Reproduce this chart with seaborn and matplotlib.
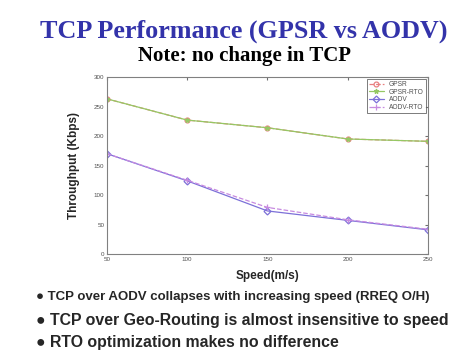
import numpy as np
import pandas as pd
import matplotlib
matplotlib.use("Agg")
import matplotlib.pyplot as plt
import seaborn as sns

# data
speeds = [50, 100, 150, 200, 250]
gpsr = [263, 227, 214, 195, 191]
gpsr_rto = [263, 227, 214, 195, 191]
aodv = [170, 124, 73, 57, 41]
aodv_rto = [170, 125, 79, 58, 42]
series_names = ["GPSR", "GPSR-RTO", "AODV", "AODV-RTO"]
y_ticks = [0, 50, 100, 150, 200, 250, 300]
bullets = [
    "\u25CF TCP over AODV collapses with increasing speed (RREQ O/H)",
    "\u25CF TCP over Geo-Routing is almost insensitive to speed",
    "\u25CF RTO optimization makes no difference",
]

df = pd.DataFrame({
    "speed": speeds * 4,
    "throughput": gpsr + gpsr_rto + aodv + aodv_rto,
    "series": np.repeat(series_names, len(speeds)),
})

sns.set_style("white")
plt.rcParams["font.family"] = ["Liberation Sans", "DejaVu Sans"]

fig = plt.figure(figsize=(4.74, 3.55), dpi=100)
ax = fig.add_axes([0.2257, 0.2845, 0.677, 0.4985])

colors = {"GPSR": "#e88080", "GPSR-RTO": "#96c864",
          "AODV": "#7c70d8", "AODV-RTO": "#c78ae0"}
markers = {"GPSR": "o", "GPSR-RTO": "*", "AODV": "D", "AODV-RTO": "+"}
styles = {"GPSR": "--", "GPSR-RTO": "-", "AODV": "-", "AODV-RTO": "--"}

# one call per series (seaborn refuses to mix filled and line markers)
for name in series_names:
    sub = df[df["series"] == name]
    filled = markers[name] != "+"
    sns.lineplot(data=sub, x="speed", y="throughput", ax=ax, label=name,
                 color=colors[name], linestyle=styles[name], linewidth=0.9,
                 marker=markers[name], markersize=3.5 if filled else 5,
                 markerfacecolor="none" if name in ("GPSR", "AODV") else colors[name],
                 markeredgecolor=colors[name], markeredgewidth=0.9)

ax.set_xlim(50, 250)
ax.set_ylim(0, 300)
ax.set_xticks(speeds)
ax.set_yticks(y_ticks)
ax.tick_params(direction="in", length=2.5, labelsize=4.5, colors="#707070",
               top=True, right=True, labelcolor="#505050", pad=2)
for s in ax.spines.values():
    s.set_color("#808080")
    s.set_linewidth(0.8)

ax.set_xlabel("Speed(m/s)", fontsize=8.5, fontweight="bold", labelpad=6)
ax.set_ylabel("Throughput (Kbps)", fontsize=8.5, fontweight="bold", labelpad=10)

leg = ax.legend(loc="upper right", fontsize=4.8, frameon=True, fancybox=False,
                edgecolor="#404040", handlelength=2.2, borderpad=0.3,
                labelspacing=0.1, borderaxespad=0.3)
leg.get_frame().set_linewidth(0.6)
for t in leg.get_texts():
    t.set_color("#505050")

fig.text(0.515, 0.912, "TCP Performance (GPSR vs AODV)", ha="center", va="center",
         fontsize=18.8, fontweight="bold", color="#3333aa",
         family=["Liberation Serif", "DejaVu Serif"])
fig.text(0.516, 0.843, "Note: no change in TCP", ha="center", va="center",
         fontsize=15, fontweight="bold", color="black",
         family=["Liberation Serif", "DejaVu Serif"])

fig.text(0.076, 1 - 297 / 355, bullets[0], ha="left", va="center",
         fontsize=9.55, fontweight="bold")
fig.text(0.076, 1 - 321 / 355, bullets[1], ha="left", va="center",
         fontsize=11.4, fontweight="bold")
fig.text(0.076, 1 - 343 / 355, bullets[2], ha="left", va="center",
         fontsize=11.4, fontweight="bold")

fig.savefig("out.png", dpi=100)
